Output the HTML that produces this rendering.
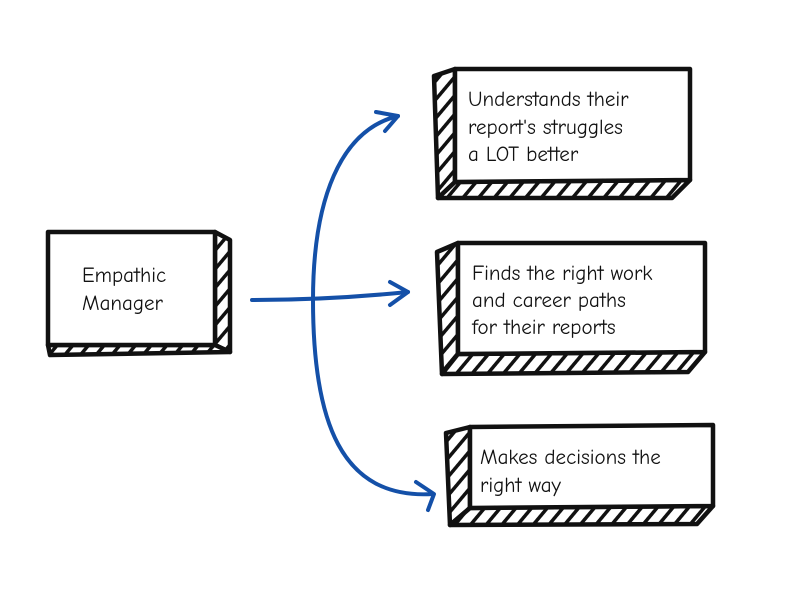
<!DOCTYPE html>
<html><head><meta charset="utf-8"><style>
html,body{margin:0;padding:0;background:#fff;}
svg{display:block;}
text{font-family:"Comic Neue","Comic Sans MS","Liberation Sans",sans-serif;font-size:21px;fill:#111;}
</style></head><body>
<svg width="800" height="600" viewBox="0 0 800 600" xmlns="http://www.w3.org/2000/svg">
<defs>
<pattern id="h" width="12" height="12" patternUnits="userSpaceOnUse" patternTransform="rotate(40)">
<rect width="12" height="12" fill="#fff"/>
<rect width="3.5" height="12" fill="#111"/>
</pattern>
</defs>
<g stroke="#111" stroke-width="4.5" stroke-linejoin="round">
<!-- Box 1 -->
<polygon points="215,232 230,240 230,352 215,345" fill="url(#h)"/>
<polygon points="48,345 215,345 230,352 50,355" fill="url(#h)"/>
<polygon points="48,232 215,232 215,345 48,345" fill="#fff"/>
<!-- Box 2 -->
<polygon points="434,76 455,69 455,182 438,198" fill="url(#h)"/>
<polygon points="455,182 690,180 672,198 438,198" fill="url(#h)"/>
<polygon points="455,69 690,69 690,180 455,182" fill="#fff"/>
<!-- Box 3 -->
<polygon points="437,252 458,243 458,354 442,374" fill="url(#h)"/>
<polygon points="458,354 705,352 688,372 442,374" fill="url(#h)"/>
<polygon points="458,243 705,243 705,352 458,354" fill="#fff"/>
<!-- Box 4 -->
<polygon points="446,433 470,427 470,508 450,525" fill="url(#h)"/>
<polygon points="470,508 713,506 697,524 450,525" fill="url(#h)"/>
<polygon points="470,427 713,425 713,506 470,508" fill="#fff"/>
</g>
<g fill="none" stroke="#1450a8" stroke-width="4" stroke-linecap="round" stroke-linejoin="round">
<path d="M252 300 Q330 300 408 292"/>
<path d="M390 282 L408 292 L390 305"/>
<path d="M398 116 C340 130 313 200 313 300 C313 420 340 500 433 494"/>
<path d="M376 112 L398 116 L385 131"/>
<path d="M416 482 L434 494 L428 510"/>
</g>
<text x="82" y="282">Empathic</text>
<text x="82" y="310">Manager</text>
<text x="468" y="106">Understands their</text>
<text x="468" y="134">report's struggles</text>
<text x="468" y="161">a LOT better</text>
<text x="472" y="280">Finds the right work</text>
<text x="472" y="307">and career paths</text>
<text x="472" y="334">for their reports</text>
<text x="480" y="464">Makes decisions the</text>
<text x="480" y="492">right way</text>
</svg>
</body></html>
